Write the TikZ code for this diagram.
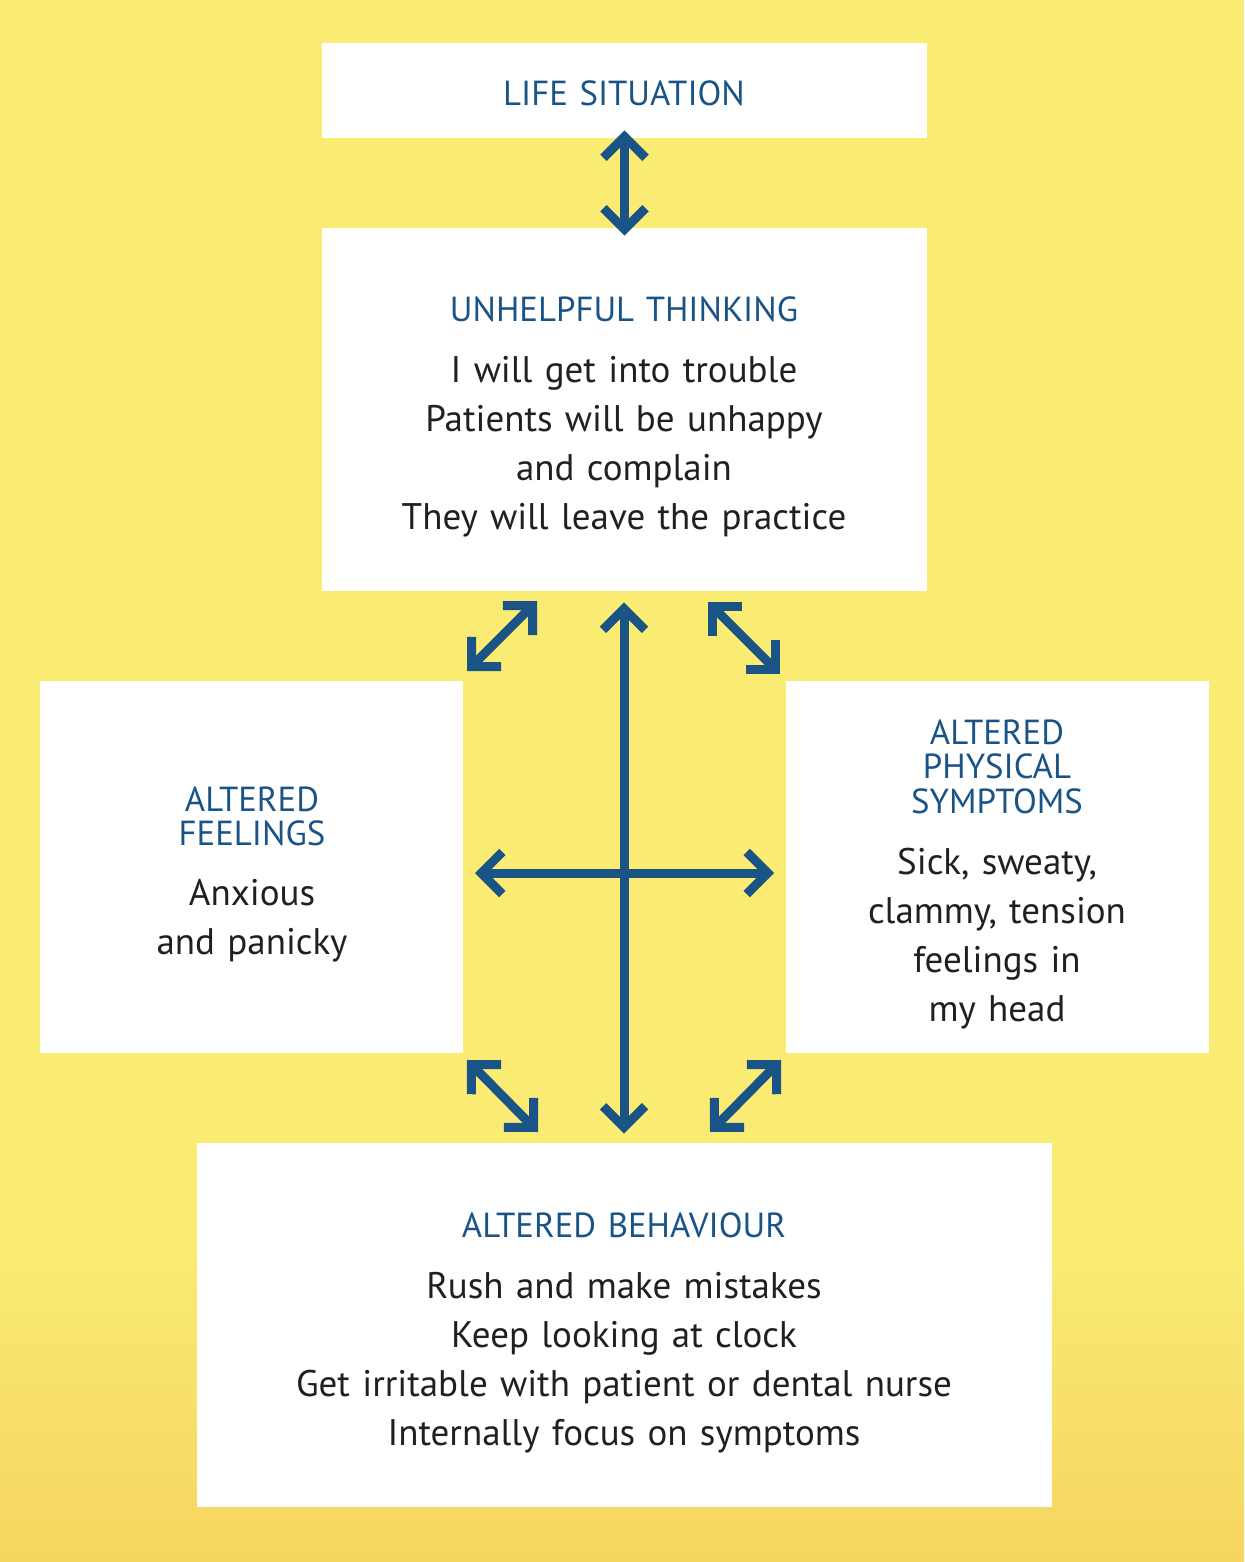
\documentclass[tikz,border=0pt]{standalone}
\usepackage{fontspec}
\setmainfont{PT Sans}
\usetikzlibrary{arrows.meta}
\definecolor{bgY}{HTML}{FAEB73}
\definecolor{bgY2}{HTML}{F5D560}
\definecolor{dblue}{HTML}{1A5487}
\definecolor{txt}{HTML}{231F20}
\tikzset{
  box/.style={fill=white, draw=none, inner sep=0pt},
  ttl/.style={text=dblue, font=\fontsize{17.4}{17.25}\selectfont, align=center, text width=200pt, inner sep=0pt, anchor=base},
  bdy/.style={text=txt, font=\fontsize{18.5}{24.5}\selectfont, align=center, text width=360pt, inner sep=0pt, anchor=base},
  link/.style={draw=dblue, line width=4.5pt, {Straight Barb[length=10.5pt,width=21pt]}-{Straight Barb[length=10.5pt,width=21pt]}}
}
\begin{document}
\begin{tikzpicture}[x=0.5pt,y=-0.5pt]
\useasboundingbox (0,0) rectangle (1244,1562);
\fill[bgY] (0,0) rectangle (1244,1562);
\shade[top color=bgY, bottom color=bgY2] (0,1250) rectangle (1244,1562);

% boxes
\node[box, minimum width=302.5pt, minimum height=47.5pt] (life) at (624.5,90.5) {};
\node[box, minimum width=302.5pt, minimum height=181.5pt] (think) at (624.5,409.5) {};
\node[box, minimum width=211.5pt, minimum height=186pt] (feel) at (251.5,867) {};
\node[box, minimum width=211.5pt, minimum height=186pt] (phys) at (997.5,867) {};
\node[box, minimum width=427.5pt, minimum height=182pt] (behav) at (624.5,1325) {};

% texts
\node[ttl] (lifeT) at (624,106) {LIFE SITUATION};
\node[ttl] (thinkT) at (624,321) {UNHELPFUL THINKING};
\node[bdy] (thinkB) at (624,382) {I will get into trouble\\Patients will be unhappy\\and complain\\They will leave the practice};
\node[ttl] (feelT) at (252,811) {ALTERED\\FEELINGS};
\node[bdy] (feelB) at (252,905) {Anxious\\and panicky};
\node[ttl] (physT) at (997,744) {ALTERED\\PHYSICAL\\SYMPTOMS};
\node[bdy] (physB) at (997,874) {Sick, sweaty,\\clammy, tension\\feelings in\\my head};
\node[ttl] (behavT) at (624,1237) {ALTERED BEHAVIOUR};
\node[bdy] (behavB) at (624,1298) {Rush and make mistakes\\Keep looking at clock\\Get irritable with patient or dental nurse\\Internally focus on symptoms};

% connector end points
\coordinate (hl) at (475,873);
\coordinate (hr) at (774,873);
\coordinate (ulA) at (467,671);
\coordinate (ulB) at (537,601);
\coordinate (urA) at (708,602);
\coordinate (urB) at (780,674);
\coordinate (llA) at (467,1060);
\coordinate (llB) at (538,1132);
\coordinate (lrA) at (710,1132);
\coordinate (lrB) at (781,1060);

% connectors
\draw[link, shorten <=-4pt, shorten >=-4pt] (life.south) -- (think.north);
\draw[link, shorten <=5.5pt, shorten >=4.5pt] ([xshift=-0.25pt]think.south) -- ([xshift=-0.25pt]behav.north);
\draw[link] (hl) -- (hr);
\draw[link] (ulA) -- (ulB);
\draw[link] (urA) -- (urB);
\draw[link] (llA) -- (llB);
\draw[link] (lrA) -- (lrB);
\end{tikzpicture}
\end{document}
